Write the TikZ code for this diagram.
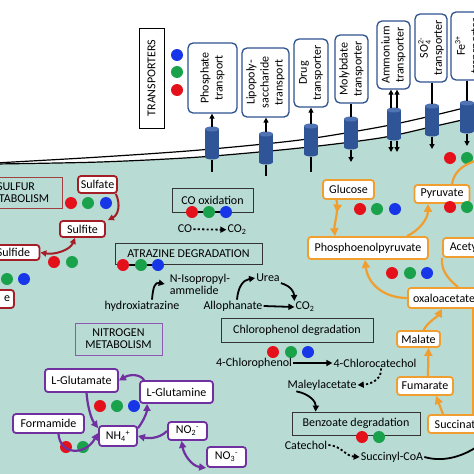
\documentclass[tikz,border=0pt]{standalone}
\usepackage{fontspec}
\setmainfont{Carlito}
\usetikzlibrary{arrows.meta,decorations.markings}
\definecolor{tealbg}{RGB}{184,219,212}
\definecolor{tblue}{RGB}{47,82,143}
\definecolor{cylblue}{RGB}{47,85,151}
\definecolor{cyltop}{RGB}{80,115,180}
\definecolor{dred}{RGB}{228,16,26}
\definecolor{dgreen}{RGB}{26,161,75}
\definecolor{dblue}{RGB}{22,54,232}
\definecolor{sred}{RGB}{163,30,38}
\definecolor{sbox}{RGB}{160,64,64}
\definecolor{orng}{RGB}{240,158,48}
\definecolor{purp}{RGB}{112,48,160}
\newcommand\chemss[2]{\ensuremath{_{\mbox{\fontsize{8}{8}\selectfont #1}}^{\mbox{\fontsize{8}{8}\selectfont #2}}}}
\newcommand\cyl[3]{%
  \fill[cylblue] (#2-7,#3-14) rectangle (#2+7,#3+14);
  \fill[cylblue] (#2,#3+14) ellipse [x radius=7, y radius=2.5];
  \fill[cyltop] (#2,#3-14) ellipse [x radius=7, y radius=2.5];
  \coordinate (#1t) at (#2,#3-16.5);
  \coordinate (#1b) at (#2,#3+16.5);}
\tikzset{
  tbox/.style={draw=tblue, line width=1.3pt, rounded corners=5pt, fill=white, rotate=90, align=center, inner sep=1pt},
  labbox/.style={draw=black, line width=0.8pt, fill=white, rotate=90, inner sep=1pt},
  snode/.style={draw=sred, line width=1.8pt, rounded corners=3pt, fill=white, inner sep=2pt},
  onode/.style={draw=orng, line width=1.8pt, rounded corners=3pt, fill=white, inner sep=2pt},
  pnode/.style={draw=purp, line width=1.8pt, rounded corners=3pt, fill=white, inner sep=2pt},
  hbox/.style={draw=black!80, line width=0.8pt, inner sep=1pt},
  txt/.style={inner sep=1pt},
  dot/.style={circle, minimum size=12pt, inner sep=0pt},
  tarr/.style={line width=1.5pt, -{Triangle[length=5pt,width=5pt]}},
  tln/.style={line width=1.5pt},
  barr/.style={line width=1.8pt, -{Triangle[length=6pt,width=6pt]}},
  darr/.style={line width=1.8pt, dash pattern=on 2.2pt off 2.2pt, -{Triangle[length=6pt,width=6pt]}},
  oarr/.style={draw=orng, line width=2.2pt, -{Triangle[length=8pt,width=8pt]}},
  oln/.style={draw=orng, line width=2.2pt},
  parr/.style={draw=purp, line width=2.2pt, -{Triangle[length=7pt,width=7pt]}},
  sarr/.style={draw=sred, line width=2pt, -{Triangle[length=6pt,width=6pt]}},
}
\begin{document}
\begin{tikzpicture}[x=1pt,y=-1pt,font=\fontsize{12}{14}\selectfont]
\useasboundingbox (0,0) rectangle (474,474);
\clip (0,0) rectangle (474,474);
\fill[white] (0,0) rectangle (474,474);
\fill[tealbg] plot[smooth] coordinates {(-5,164) (100,162) (200,157) (300,148) (380,138) (431,127) (480,116)} -- (480,480) -- (-5,480) -- cycle;
\draw[line width=1.2pt] plot[smooth] coordinates {(-5,163) (100,157) (200,150) (300,140) (380,127) (431,116) (480,104)};
\draw[line width=1.2pt] plot[smooth] coordinates {(-5,164) (100,162) (200,157) (300,148) (380,138) (431,127) (480,116)};

% transporters
\node[labbox, minimum width=100, minimum height=25] (trlab) at (151.5,78) {TRANSPORTERS};
\node[dot, fill=dblue] (t1) at (177,55) {};
\node[dot, fill=dgreen] (t2) at (177,72) {};
\node[dot, fill=dred] (t3) at (177,90) {};
\node[tbox, minimum width=70, minimum height=49] (phos) at (212.5,78) {Phosphate\\transport};
\node[tbox, minimum width=69, minimum height=47] (lipo) at (265.5,82.5) {Lipopoly-\\saccharide\\transport};
\node[tbox, minimum width=68, minimum height=34] (drug) at (311,73) {Drug\\transporter};
\node[tbox, minimum width=68, minimum height=33] (moly) at (351.5,69) {Molybdate\\transporter};
\node[tbox, minimum width=68, minimum height=33] (ammo) at (393.5,55) {Ammonium\\transporter};
\node[tbox, minimum width=68, minimum height=32] (sulf) at (431,48) {SO\chemss{4}{2-}\\transporter};
\node[tbox, minimum width=68, minimum height=34] (fe) at (468,46) {Fe\textsuperscript{3+}\\transporter};

\cyl{ca}{212}{143}
\cyl{cb}{266}{148}
\cyl{cc}{311}{140}
\cyl{cd}{351}{133}
\cyl{ce}{394}{124}
\cyl{cf}{432}{120}
\cyl{cg}{467}{117}
\coordinate (ea) at (212,172);
\coordinate (eb) at (266,176);
\coordinate (ec) at (311,172);
\coordinate (ed) at (351,162);
\coordinate (ee) at (394,152);
\coordinate (ef) at (432,149);
\coordinate (eg) at (467,146);
\draw[tarr] (cat) -- (cat |- phos.west);
\draw[tln] (cab) -- (ea);
\draw[tarr] (cbt) -- (cbt |- lipo.west);
\draw[tln] (cbb) -- (eb);
\draw[tarr] (cct) -- (cct |- drug.west);
\draw[tln] (ccb) -- (ec);
\draw[tln] (moly.west -| cdt) -- (cdt);
\draw[tarr] (cdb) -- (ed);
\draw[tarr] ([xshift=-3pt]cet) -- ([xshift=-3pt]cet |- ammo.west);
\draw[tarr] ([xshift=3pt]cet) -- ([xshift=3pt]cet |- ammo.west);
\draw[tarr] ([xshift=-3pt]ceb) -- ([xshift=-3pt]ee);
\draw[tarr] ([xshift=3pt]ceb) -- ([xshift=3pt]ee);
\draw[tln] (sulf.west -| cft) -- (cft);
\draw[tarr] (cfb) -- (ef);
\draw[tln] (fe.west -| cgt) -- (cgt);
\draw[tarr] (cgb) -- (eg);

% sulfur
\node[draw=sbox, line width=0.9pt, minimum width=92, minimum height=31, align=center, inner sep=1pt, font=\fontsize{12}{12}\selectfont] (sulbox) at (16,192.5) {SULFUR\\METABOLISM};
\node[snode, minimum width=39, minimum height=17] (sulfate) at (97.5,184.5) {Sulfate};
\node[snode, minimum width=45, minimum height=16] (sulfite) at (82.5,229) {Sulfite};
\node[snode, minimum width=52, minimum height=15] (sulfide) at (13.5,252.5) {Sulfide};
\node[snode, minimum width=34, minimum height=18, text width=26, align=right] (sx) at (-3,299) {e};
\node[dot, fill=dred] (s1) at (71,203) {};
\node[dot, fill=dgreen] (s2) at (88,203) {};
\node[dot, fill=dblue] (s3) at (106,203) {};
\node[dot, fill=dred] (s4) at (54,262) {};
\node[dot, fill=dgreen] (s5) at (72,262) {};
\node[dot, fill=dgreen] (s6) at (7,279) {};
\node[dot, fill=dblue] (s7) at (24,279) {};
\draw[sarr] ([xshift=-2pt]sulfate.south east) .. controls (121,205) and (118,215) .. ([xshift=2pt]sulfite.north east);
\draw[sarr, {Triangle[length=6pt,width=6pt]}-{Triangle[length=6pt,width=6pt]}] ([xshift=16pt]sulfite.south west) .. controls (70,250) and (55,255) .. (sulfide.east);

% CO oxidation
\node[hbox, minimum width=81, minimum height=24] (cobox) at (212.5,200) {CO oxidation};
\draw[line width=1.2pt] (192,212) -- (226,212);
\node[dot, fill=dred] (c1) at (192,212) {};
\node[dot, fill=dgreen] (c2) at (209,212) {};
\node[dot, fill=dblue] (c3) at (226,212) {};
\node[txt] (co) at (185,229) {CO};
\node[txt] (coa) at (237,230) {CO\textsubscript{2}};
\draw[darr] (co) -- (coa);

% atrazine
\node[hbox, minimum width=147, minimum height=21] (atbox) at (188.5,253.5) {ATRAZINE DEGRADATION};
\draw[line width=1.2pt] (123,265) -- (158,265);
\node[dot, fill=dred] (a1) at (123,265) {};
\node[dot, fill=dgreen] (a2) at (141,265) {};
\node[dot, fill=dblue] (a3) at (158,265) {};
\node[txt, align=left, font=\fontsize{12}{12}\selectfont] (nis) at (200,284) {N-Isopropyl-\\ammelide};
\node[txt] (hyd) at (142,306) {hydroxiatrazine};
\node[txt] (urea) at (268,278) {Urea};
\node[txt] (allo) at (233,306) {Allophanate};
\node[txt] (cob) at (305,307) {CO\textsubscript{2}};
\draw[barr] ([xshift=10pt]hyd.north) .. controls (153,287) and (155,282) .. ([xshift=-4pt]nis.west);
\draw[barr] ([xshift=4pt]allo.north) .. controls (238,287) and (243,280) .. (urea.west);
\draw[barr] (urea.south east) .. controls (291,286) and (294,292) .. (cob.north west);
\draw[barr] (allo.east) -- (cob.west);

% chlorophenol
\node[hbox, minimum width=152, minimum height=24] (clbox) at (297,330) {Chlorophenol degradation};
\node[dot, fill=dred] (h1) at (273,352) {};
\node[dot, fill=dgreen] (h2) at (291,352) {};
\node[dot, fill=dblue] (h3) at (308,352) {};
\node[txt] (cp) at (254,363) {4-Chlorophenol};
\node[txt] (cc) at (375,363) {4-Chlorocatechol};
\node[txt] (ml) at (322,385) {Maleylacetate};
\draw[barr] (cp.east) -- (cc.west);
\draw[darr] ([xshift=6pt]cc.south) .. controls (382,378) and (373,384) .. (ml.east);
\node[hbox, minimum width=128, minimum height=23] (bzbox) at (356,423.5) {Benzoate degradation};
\node[dot, fill=dred] (b1) at (362,437) {};
\node[dot, fill=dgreen] (b2) at (379,437) {};
\node[txt] (cat) at (306,445) {Catechol};
\node[txt] (sc) at (392,457) {Succinyl-CoA};
\coordinate (scend) at (478,446);
\draw[barr] ([xshift=10pt]ml.south west) .. controls (310,394) and (316,402) .. ([xshift=24pt]bzbox.north west);
\draw[darr] (cat.east) .. controls (342,446) and (345,456) .. (sc.west);
\draw[line width=1.8pt] (sc.east) .. controls (445,463) and (465,455) .. (scend);

% nitrogen
\node[draw=purp!80, line width=0.9pt, minimum width=87, minimum height=32, align=center, inner sep=1pt, font=\fontsize{12}{12}\selectfont] (nbox) at (118.5,339) {NITROGEN\\METABOLISM};
\node[pnode, minimum width=73, minimum height=23] (glu) at (81.5,380.5) {L-Glutamate};
\node[pnode, minimum width=73, minimum height=22] (gln) at (176.5,392) {L-Glutamine};
\node[pnode, minimum width=71, minimum height=19] (form) at (48.5,423.5) {Formamide};
\node[pnode, minimum width=38, minimum height=20] (nh4) at (118,436) {NH\textsubscript{4}\textsuperscript{+}};
\node[pnode, minimum width=39, minimum height=18] (no2) at (187.5,431) {NO\textsubscript{2}\textsuperscript{-}};
\node[pnode, minimum width=39, minimum height=20] (no3) at (226.5,457) {NO\textsubscript{3}\textsuperscript{-}};
\node[dot, fill=dred] (n1) at (100,406) {};
\node[dot, fill=dgreen] (n2) at (117,406) {};
\node[dot, fill=dblue] (n3) at (134,406) {};
\node[dot, fill=dred] (n4) at (66,447) {};
\node[dot, fill=dgreen] (n5) at (83,447) {};
\draw[parr] ([xshift=5pt]gln.north west) .. controls (140,374) and (130,374) .. (glu.east);
\draw[parr] ([xshift=5pt]glu.south) .. controls (88,410) and (92,420) .. ([yshift=-3pt]nh4.north west);
\draw[parr] ([yshift=-3pt]nh4.north east) .. controls (143,422) and (147,412) .. ([xshift=8pt]gln.south west);
\draw[parr] ([xshift=10pt]form.south) .. controls (60,455) and (85,456) .. ([yshift=3pt]nh4.west);
\draw[parr] (no2.west) .. controls (158,440) and (146,438) .. (nh4.east);
\draw[parr, {Triangle[length=7pt,width=7pt]}-{Triangle[length=7pt,width=7pt]}] (no3.south west) .. controls (192,466) and (184,455) .. ([xshift=-6pt]no2.south);

% carbon (orange)
\node[onode, minimum width=51, minimum height=19] (gluc) at (348.5,189.5) {Glucose};
\node[onode, minimum width=55, minimum height=18] (pyr) at (442,194) {Pyruvate};
\node[onode, minimum width=120, minimum height=22] (pep) at (368,248) {Phosphoenolpyruvate};
\node[onode, minimum width=67, minimum height=19] (acet) at (476.5,247.5) {Acetyl-CoA};
\node[onode, minimum width=72, minimum height=20] (oxa) at (444,298) {oxaloacetate};
\node[onode, minimum width=43, minimum height=16] (mal) at (418.5,339) {Malate};
\node[onode, minimum width=56, minimum height=18] (fum) at (425,386) {Fumarate};
\node[onode, minimum width=60, minimum height=18] (suc) at (458,424) {Succinate};
\node[dot, fill=dred] (o1) at (360,209) {};
\node[dot, fill=dgreen] (o2) at (377,209) {};
\node[dot, fill=dblue] (o3) at (395,209) {};
\node[dot, fill=dred] (o4) at (450,207) {};
\node[dot, fill=dgreen] (o5) at (467,207) {};
\node[dot, fill=dred] (o6) at (392,273) {};
\node[dot, fill=dgreen] (o7) at (410,273) {};
\node[dot, fill=dblue] (o8) at (427,273) {};
\node[dot, fill=dred] (o9) at (450,158) {};
\node[dot, fill=dgreen] (o10) at (467,158) {};
\coordinate (tca1) at (478,160);
\coordinate (tcr1) at (473,308);
\coordinate (tcr2) at (473,415);
\draw[oarr, postaction={decorate, decoration={markings, mark=at position 0.35 with {\arrow{Triangle[length=8pt,width=8pt]}}}}] ([xshift=-12pt]gluc.south) .. controls (339,210) and (334,225) .. ([xshift=-33pt]pep.north);
\draw[oarr] ([xshift=39pt]pep.north) .. controls (420,230) and (428,218) .. ([xshift=-14pt]pyr.south);
\draw[oln] ([xshift=10pt]pyr.north) .. controls (454,172) and (462,165) .. (tca1);
\draw[oarr] (oxa.west) .. controls (385,298) and (368,285) .. ([xshift=-3pt]pep.south);
\draw[oln] (acet.south west) .. controls (440,272) and (452,282) .. ([xshift=14pt]oxa.north);
\draw[oarr] ([xshift=5pt]mal.north) .. controls (428,322) and (438,316) .. ([xshift=-2pt]oxa.south);
\draw[oarr] ([xshift=3pt]fum.north) -- ([xshift=10pt]mal.south);
\draw[oarr] ([xshift=-15pt]suc.north) -- ([xshift=11pt]fum.south);
\draw[oln] (tcr1) -- (tcr2);
\end{tikzpicture}
\end{document}
